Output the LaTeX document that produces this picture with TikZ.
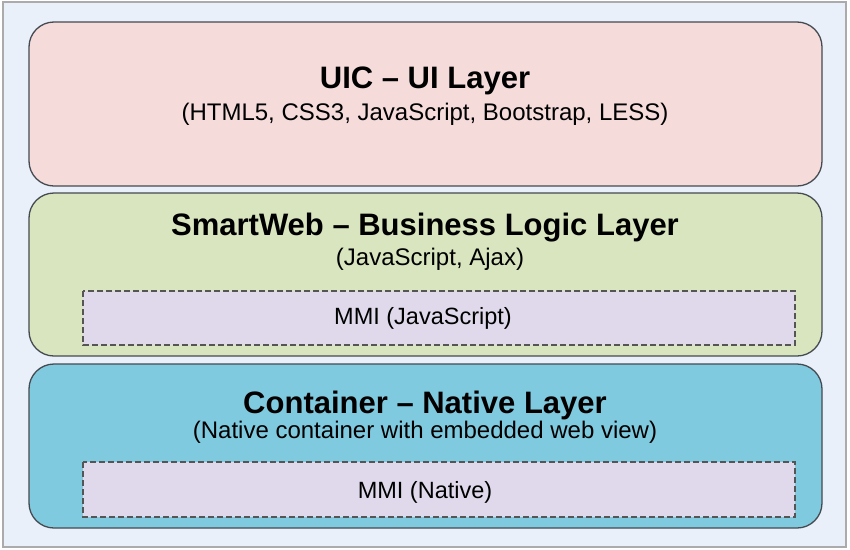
\documentclass[tikz,border=0pt]{standalone}
\usepackage{fontspec}
\setmainfont{Liberation Sans}
\definecolor{bgblue}{HTML}{E9F0FA}
\definecolor{framegray}{HTML}{ABABAB}
\definecolor{pinkfill}{HTML}{F5DCDB}
\definecolor{greenfill}{HTML}{D8E5BE}
\definecolor{bluefill}{HTML}{80CADF}
\definecolor{lavfill}{HTML}{DFD9EB}
\definecolor{edgegray}{HTML}{454A50}
\definecolor{dashgray}{HTML}{555555}
\tikzset{
  layerbox/.style={draw=edgegray, line width=1.3pt, rounded corners=25pt},
  mmibox/.style={draw=dashgray, fill=lavfill, line width=1.2pt, dash pattern=on 6pt off 3pt},
  titletext/.style={font=\fontsize{31}{34}\selectfont\bfseries, anchor=base, inner sep=0pt},
  subtext/.style={font=\fontsize{24}{27}\selectfont, anchor=base, inner sep=0pt},
  mmitext/.style={font=\fontsize{23.5}{26}\selectfont, anchor=base, inner sep=0pt},
}
\begin{document}
\begin{tikzpicture}[x=1pt,y=-1pt]
\useasboundingbox (0,0) rectangle (850,549);
\fill[white] (0,0) rectangle (850,549);
\fill[bgblue] (2.5,1.5) rectangle (846,547);
\draw[framegray, line width=2pt] (2.5,1.5) rectangle (846,547);

% Layer boxes
\path[layerbox, fill=pinkfill] (29,22) rectangle (822,186) coordinate (uicBR);
\coordinate (uic) at (425.5,104);
\path[layerbox, fill=greenfill] (29,193) rectangle (822,356);
\coordinate (sw) at (425.5,274.5);
\path[layerbox, fill=bluefill] (29,364) rectangle (822,528);
\coordinate (cont) at (425.5,446);

% MMI boxes
\path[mmibox] (83,291) rectangle (795,345);
\path[mmibox] (83,462) rectangle (795,517);

% Texts
\node[titletext] (t1) at (425,88) {UIC – UI Layer};
\node[subtext] (s1) at (425,120) {(HTML5, CSS3, JavaScript, Bootstrap, LESS)};
\node[titletext] (t2) at (425,235) {SmartWeb – Business Logic Layer};
\node[subtext] (s2) at (430,265) {(JavaScript, Ajax)};
\node[mmitext] (m1) at (423,324) {MMI (JavaScript)};
\node[titletext] (t3) at (425,413) {Container – Native Layer};
\node[subtext] (s3) at (425,438) {(Native container with embedded web view)};
\node[mmitext] (m2) at (425,498) {MMI (Native)};
\end{tikzpicture}
\end{document}
